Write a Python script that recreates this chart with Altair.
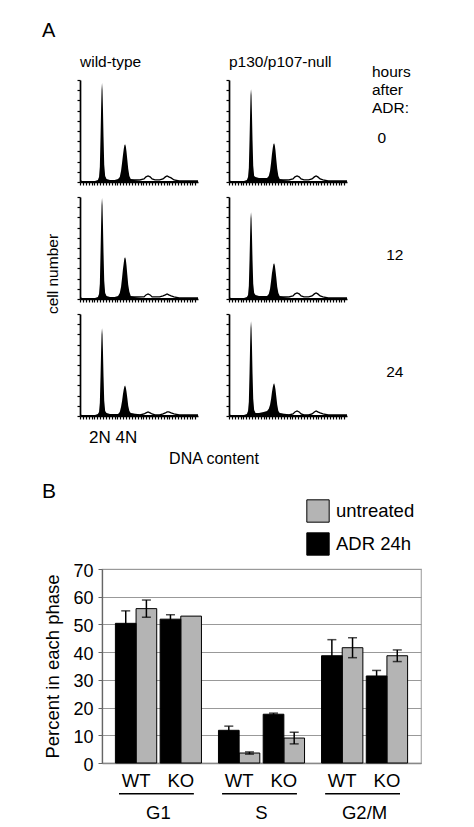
import altair as alt
import pandas as pd

FONT = "Liberation Sans"

# ---------------- Panel A: DNA content histograms ----------------
GENOTYPES = ["wild-type", "p130/p107-null"]
HOURS = ["0", "12", "24"]

DNA_CH = [0, 6, 14, 30, 80, 130,
          155, 165, 172, 178, 183, 187, 191, 195, 199, 204, 210, 218, 230,
          260, 300,
          330, 345, 356, 365, 372, 379, 385, 391, 397, 403, 410, 418, 428, 440, 470,
          540, 700, 1023]

FILL_WT_0 = [12, 3, 1, 1, 1, 1,
             2, 5, 15, 44, 72, 90, 97, 90, 72, 44, 17, 6, 3,
             2, 2,
             3, 5, 11, 19, 26, 32, 36, 37, 35, 30, 22, 13, 6, 3, 2,
             1, 1, 1]
FILL_KO_0 = [6, 2, 1, 1, 1, 1,
             2, 5, 14, 41, 67, 85, 91, 85, 67, 41, 16, 6, 5,
             4, 4,
             4, 6, 11, 19, 27, 33, 37, 38, 36, 31, 22, 13, 6, 3, 2,
             1, 1, 1]
FILL_WT_12 = [10, 3, 1, 1, 1, 1,
              2, 5, 15, 45, 73, 92, 99, 92, 73, 45, 18, 6, 3,
              2, 2,
              3, 6, 12, 21, 29, 35, 40, 41, 39, 33, 24, 14, 7, 3, 2,
              1, 1, 1]
FILL_KO_12 = [5, 2, 1, 1, 1, 1,
              2, 4, 13, 38, 63, 79, 85, 79, 63, 38, 15, 6, 4,
              3, 3,
              3, 5, 10, 18, 25, 30, 34, 35, 33, 28, 21, 12, 6, 3, 2,
              1, 1, 1]
FILL_WT_24 = [5, 2, 1, 1, 1, 1,
              2, 4, 13, 39, 64, 80, 86, 80, 64, 39, 15, 5, 3,
              2, 2,
              2, 4, 9, 15, 21, 26, 29, 30, 28, 24, 18, 10, 5, 3, 2,
              1, 1, 1]
FILL_KO_24 = [4, 2, 1, 1, 1, 1,
              2, 5, 14, 42, 69, 86, 93, 86, 69, 42, 17, 6, 3,
              3, 4,
              5, 7, 11, 17, 23, 28, 31, 32, 30, 26, 19, 11, 5, 3, 2,
              1, 1, 1]

HUMP_CH = [440, 520, 555, 572, 590, 608, 625, 650, 690, 720, 740, 755, 770, 790, 815, 860, 930, 1023]
HUMP_WT_0 = [2, 2, 3, 5, 6, 5, 3, 2, 2, 3, 5, 6, 5, 4, 2, 1, 1, 1]
HUMP_KO_0 = [2, 2, 3, 5, 6, 5, 3, 2, 2, 3, 5, 6, 5, 3, 2, 1, 1, 1]
HUMP_WT_12 = [2, 2, 2, 4, 5, 4, 2, 2, 2, 3, 4, 5, 4, 3, 2, 1, 1, 1]
HUMP_KO_12 = [2, 2, 3, 5, 6, 5, 3, 2, 2, 3, 5, 6, 5, 3, 2, 1, 1, 1]
HUMP_WT_24 = [2, 1, 2, 3, 4, 3, 2, 1, 1, 2, 3, 4, 4, 3, 2, 1, 1, 1]
HUMP_KO_24 = [2, 1, 2, 4, 5, 4, 2, 1, 1, 2, 4, 5, 4, 3, 2, 1, 1, 1]

# ---------------- Panel B: cell-cycle phase percentages ----------------
PHASES = ["G1", "S", "G2/M"]
GENOS = ["WT", "KO"]
ADR_MEAN = [50.4, 51.9, 11.8, 17.6, 38.7, 31.4]
ADR_ERR = [4.5, 1.6, 1.5, 0.4, 5.8, 2.0]
UNTR_MEAN = [55.7, 53.0, 3.6, 9.0, 41.6, 38.7]
UNTR_ERR = [3.1, 0.0, 0.4, 2.1, 3.6, 2.1]

# ---------------- build panel A table ----------------
fills = {("wild-type", "0"): FILL_WT_0, ("p130/p107-null", "0"): FILL_KO_0,
         ("wild-type", "12"): FILL_WT_12, ("p130/p107-null", "12"): FILL_KO_12,
         ("wild-type", "24"): FILL_WT_24, ("p130/p107-null", "24"): FILL_KO_24}
humps = {("wild-type", "0"): HUMP_WT_0, ("p130/p107-null", "0"): HUMP_KO_0,
         ("wild-type", "12"): HUMP_WT_12, ("p130/p107-null", "12"): HUMP_KO_12,
         ("wild-type", "24"): HUMP_WT_24, ("p130/p107-null", "24"): HUMP_KO_24}
rows = []
for (g, h), arr in fills.items():
    for c, v in zip(DNA_CH, arr):
        rows.append({"geno": g, "hours": h, "kind": "fill", "ch": c, "val": v})
for (g, h), arr in humps.items():
    for c, v in zip(HUMP_CH, arr):
        rows.append({"geno": g, "hours": h, "kind": "line", "ch": c, "val": v})
for g, h, k in [("wild-type", "0", "A"), ("p130/p107-null", "0", "hours"),
                ("wild-type", "12", "cell"), ("wild-type", "24", "dna")]:
    rows.append({"geno": g, "hours": h, "kind": k, "ch": 0, "val": 0})
dfA = pd.DataFrame(rows)

xA = alt.X("ch:Q", scale=alt.Scale(domain=[0, 1023], nice=False, zero=False),
           axis=alt.Axis(values=list(range(0, 1001, 25)), labels=False, title=None, grid=False,
                         domainColor="black", domainWidth=1.7, tickColor="black",
                         tickSize=3, tickWidth=1.2))
yA = alt.Y("val:Q", scale=alt.Scale(domain=[0, 100], nice=False),
           axis=alt.Axis(values=list(range(0, 101, 10)), labels=False, title=None, grid=False,
                         domainColor="black", domainWidth=1.7, tickColor="black",
                         tickSize=3, tickWidth=1.2))

area = alt.Chart().mark_area(color="black", interpolate="linear").encode(
    x=xA, y=yA).transform_filter(alt.datum.kind == "fill")
line = alt.Chart().mark_line(color="black", strokeWidth=1.3).encode(
    x=xA, y=yA).transform_filter(alt.datum.kind == "line")


def ann(kind, text, x, y, **kw):
    return alt.Chart().mark_text(text=text, color="black", font=FONT, **kw).encode(
        x=alt.value(x), y=alt.value(y)).transform_filter(alt.datum.kind == kind)


tA = ann("A", "A", -38, -49, fontSize=20, align="left", baseline="middle")
tHours = ann("hours", ["hours", "after", "ADR:"], 143, -8, fontSize=15.5, align="left",
             baseline="middle", lineHeight=18)
tCell = ann("cell", "cell number", -27, 77, fontSize=15.5, angle=270, align="center",
            baseline="middle")
t2N = ann("dna", "2N 4N", 9, 124, fontSize=17, align="left", baseline="middle")
tDNA = ann("dna", "DNA content", 134, 145, fontSize=16, align="center", baseline="middle")

panelA = alt.layer(area, line, tA, tHours, tCell, t2N, tDNA, data=dfA).properties(
    width=118, height=102
).facet(
    row=alt.Row("hours:N", sort=HOURS,
                header=alt.Header(title=None, labelOrient="right", labelAngle=0, labelAlign="left",
                                  labelBaseline="top", labelPadding=22, labelFontSize=15.5,
                                  labelColor="black", labelFont=FONT)),
    column=alt.Column("geno:N", sort=GENOTYPES,
                      header=alt.Header(title=None, labelOrient="top", labelAnchor="start",
                                        labelAlign="left", labelBaseline="middle", labelPadding=3,
                                        labelFontSize=15.5, labelColor="black", labelFont=FONT)),
    spacing={"row": 15, "column": 31},
    bounds="flush",
).resolve_axis(x="independent", y="independent")

# ---------------- build panel B table ----------------
recs = []
i = 0
for p in PHASES:
    for g in GENOS:
        recs.append({"phase": p, "geno": g, "treat": "ADR 24h", "mean": ADR_MEAN[i], "err": ADR_ERR[i]})
        recs.append({"phase": p, "geno": g, "treat": "untreated", "mean": UNTR_MEAN[i], "err": UNTR_ERR[i]})
        i += 1
dfB = pd.DataFrame(recs)
dfB["lo"] = dfB["mean"] - dfB["err"]
dfB["hi"] = dfB["mean"] + dfB["err"]

axisY = alt.Axis(values=list(range(0, 71, 10)), title="Percent in each phase", titleFontSize=18.5,
                 titleFontWeight="normal", titleColor="black", titleFont=FONT, titleX=-50, titleY=97,
                 titleAngle=270, titleAlign="center", titleBaseline="middle",
                 labelFontSize=18, labelColor="black", labelFont=FONT, labelPadding=5, labelOffset=2,
                 tickSize=4, tickColor="#666", domainColor="#666", domainWidth=1.3,
                 grid=True, gridColor="#999", gridWidth=1.2)
scaleY = alt.Scale(domain=[0, 70], nice=False)
xB = alt.X("phase:N", sort=PHASES, scale=alt.Scale(type="band", paddingInner=0.165, paddingOuter=0.13),
           axis=alt.Axis(title=None, labelAngle=0, ticks=False, labelPadding=49, labelBaseline="middle",
                         labelFontSize=18.5, labelColor="black", labelFont=FONT,
                         domainColor="#888", domainWidth=1.3))
offADR = alt.XOffset("geno:N", sort=GENOS,
                     scale=alt.Scale(type="band", paddingInner=0.538, paddingOuter=0.231, align=0))
offUN = alt.XOffset("geno:N", sort=GENOS,
                    scale=alt.Scale(type="band", paddingInner=0.538, paddingOuter=0.231, align=1))
offTXT = alt.XOffset("geno:N", sort=GENOS,
                     scale=alt.Scale(type="band", paddingInner=0.076, paddingOuter=0))
color = alt.Color("treat:N", scale=alt.Scale(domain=["untreated", "ADR 24h"], range=["#b4b4b4", "#000000"]),
                  legend=alt.Legend(title=None, orient="none", legendX=204, legendY=-70,
                                    symbolType="square", symbolSize=500, symbolStrokeColor="black",
                                    symbolStrokeWidth=1, symbolOpacity=1, labelFontSize=18.5,
                                    labelColor="black", labelFont=FONT, labelOffset=6,
                                    rowPadding=5, padding=0))

base = alt.Chart(dfB)
adr = base.transform_filter(alt.datum.treat == "ADR 24h")
un = base.transform_filter(alt.datum.treat == "untreated")

barsUN = un.mark_bar(stroke="black", strokeWidth=1).encode(
    x=xB, xOffset=offUN, y=alt.Y("mean:Q", scale=scaleY, axis=axisY), color=color)
barsADR = adr.mark_bar(stroke="black", strokeWidth=1).encode(
    x=xB, xOffset=offADR, y=alt.Y("mean:Q", scale=scaleY, axis=axisY), color=color)
errADR = adr.mark_rule(color="black", strokeWidth=1.5).encode(
    x=xB, xOffset=offADR, y=alt.Y("lo:Q", scale=scaleY, axis=axisY), y2="hi:Q")
capADR = adr.transform_filter(alt.datum.err > 0).mark_tick(
    color="black", orient="horizontal", size=9, thickness=1.5).encode(
    x=xB, xOffset=offADR, y=alt.Y("hi:Q", scale=scaleY, axis=axisY))
errUN = un.transform_filter(alt.datum.err > 0).mark_rule(color="black", strokeWidth=1.5).encode(
    x=xB, xOffset=offUN, y=alt.Y("lo:Q", scale=scaleY, axis=axisY), y2="hi:Q")
capUNhi = un.transform_filter(alt.datum.err > 0).mark_tick(
    color="black", orient="horizontal", size=9, thickness=1.5).encode(
    x=xB, xOffset=offUN, y=alt.Y("hi:Q", scale=scaleY, axis=axisY))
capUNlo = un.transform_filter(alt.datum.err > 0).mark_tick(
    color="black", orient="horizontal", size=9, thickness=1.5).encode(
    x=xB, xOffset=offUN, y=alt.Y("lo:Q", scale=scaleY, axis=axisY))
txtGeno = adr.mark_text(fontSize=18.5, color="black", font=FONT, baseline="middle").encode(
    x=xB, xOffset=offTXT, y=alt.value(212), text="geno:N")
underline = adr.transform_filter(alt.datum.geno == "WT").mark_bar(
    color="black", width=alt.RelativeBandSize(0.87), xOffset=-2).encode(
    x=xB, y=alt.value(224), y2=alt.value(225.4))
txtB = adr.transform_filter((alt.datum.geno == "WT") & (alt.datum.phase == "G1")).mark_text(
    text="B", fontSize=21, color="black", font=FONT, align="left", baseline="middle").encode(
    x=alt.value(-60), y=alt.value(-77))

panelB = alt.layer(barsUN, barsADR, errADR, capADR, errUN, capUNhi, capUNlo,
                   txtGeno, underline, txtB).resolve_scale(xOffset="independent").properties(
    width=319, height=194, view=alt.ViewBackground(stroke="#aaaaaa", strokeWidth=1.2))

# an empty, invisible strip that indents panel B relative to panel A
spacer = alt.Chart(pd.DataFrame({"s": [0]})).mark_point(opacity=0).encode(
    x=alt.value(0), y=alt.value(0)).properties(width=2, height=2)
rowB = alt.hconcat(spacer, panelB, spacing=20, bounds="flush").resolve_legend(color="independent")

chart = alt.vconcat(panelA, rowB, spacing=12).resolve_legend(
    color="independent"
).properties(
    padding={"left": 33, "top": 12, "right": 4, "bottom": 4}
).configure(font=FONT).configure_view(stroke="transparent")

chart.save("out.html", embed_options={"renderer": "svg", "actions": False})
